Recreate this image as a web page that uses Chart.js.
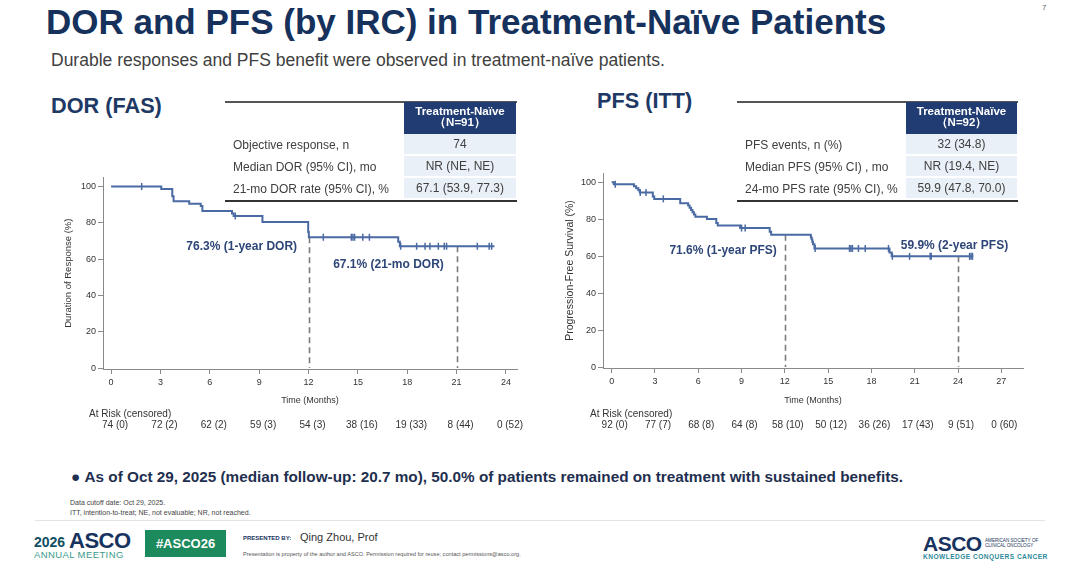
<!DOCTYPE html>
<html><head><meta charset="utf-8">
<script src="https://cdn.jsdelivr.net/npm/chart.js@4.4.1/dist/chart.umd.min.js"></script>
<style>
html,body{margin:0;padding:0;background:#fff;}
body{width:1080px;height:565px;position:relative;overflow:hidden;font-family:'Liberation Sans',Arial,sans-serif;}
.a{position:absolute;white-space:nowrap;line-height:1;}
canvas{position:absolute;}
.tbl{position:absolute;}
.hdr{position:absolute;background:#203c73;color:#fff;font-weight:bold;font-size:11.5px;text-align:center;line-height:11px;}
.lbl{position:absolute;font-size:12px;color:#404040;line-height:1;white-space:nowrap;}
.val{position:absolute;background:#e9f0f7;font-size:12px;color:#404040;text-align:center;border-bottom:2px solid #fff;box-sizing:border-box;}
</style></head><body>

<div class="a" style="left:46px;top:4px;font-size:35px;font-weight:bold;color:#15315c;">DOR and PFS (by IRC) in Treatment-Naïve Patients</div>
<div class="a" style="left:1042px;top:4px;font-size:8px;color:#666;">7</div>
<div class="a" style="left:51px;top:52px;font-size:17.5px;color:#404040;">Durable responses and PFS benefit were observed in treatment-naïve patients.</div>
<div class="a" style="left:51px;top:95px;font-size:21.7px;font-weight:bold;color:#203864;">DOR (FAS)</div>
<div class="a" style="left:597px;top:90px;font-size:21.7px;font-weight:bold;color:#203864;">PFS (ITT)</div>

<canvas id="dor" width="490" height="270" style="left:50px;top:170px;"></canvas>
<canvas id="pfs" width="500" height="275" style="left:560px;top:165px;"></canvas>

<div id="tblL" class="tbl" style="left:225px;top:101px;width:292px;height:100px;"></div>
<div id="tblR" class="tbl" style="left:737px;top:101px;width:281px;height:100px;"></div>

<div class="a" style="left:71px;top:469px;font-size:15.3px;font-weight:bold;color:#1f2f4f;">●&nbsp;As of Oct 29, 2025 (median follow-up: 20.7 mo), 50.0% of patients remained on treatment with sustained benefits.</div>
<div class="a" style="left:70px;top:499px;font-size:7px;color:#444;">Data cutoff date: Oct 29, 2025.</div>
<div class="a" style="left:70px;top:509px;font-size:7px;color:#444;">ITT, intention-to-treat; NE, not evaluable; NR, not reached.</div>

<div class="a" style="left:35px;top:520px;width:1010px;height:1px;background:#e4e4e4;"></div>
<div class="a" style="left:34px;top:535px;font-size:14px;font-weight:bold;color:#124f63;">2026</div>
<div class="a" style="left:69px;top:530px;font-size:22px;font-weight:bold;color:#17335e;letter-spacing:-0.5px;">ASCO</div>
<div class="a" style="left:34px;top:550px;font-size:9.5px;color:#3a9a8c;letter-spacing:0.4px;">ANNUAL MEETING</div>
<div class="a" style="left:145px;top:530px;width:81px;height:27px;background:#1d8a5e;color:#fff;font-weight:bold;font-size:13px;line-height:27px;text-align:center;">#ASCO26</div>
<div class="a" style="left:243px;top:535px;font-size:6px;font-weight:bold;color:#17335e;">PRESENTED BY:</div>
<div class="a" style="left:300px;top:532px;font-size:11px;color:#333;">Qing Zhou, Prof</div>
<div class="a" style="left:243px;top:552px;font-size:5.6px;color:#555;">Presentation is property of the author and ASCO. Permission required for reuse; contact permissions@asco.org.</div>
<div class="a" style="left:923px;top:533px;font-size:21px;font-weight:bold;color:#17335e;letter-spacing:-0.5px;">ASCO</div>
<div class="a" style="left:985px;top:538px;font-size:4.6px;color:#17335e;line-height:5px;">AMERICAN SOCIETY OF<br>CLINICAL ONCOLOGY</div>
<div class="a" style="left:923px;top:554px;font-size:6.6px;font-weight:bold;color:#2f8a9a;letter-spacing:0.45px;">KNOWLEDGE CONQUERS CANCER</div>

<script>
// ---------- data ----------
const dorTimes = [0, 3.05, 3.72, 3.8, 4.75, 5.45, 5.55, 7.35, 7.45, 9.2, 11.98, 12.02, 17.45, 17.55, 23.3];
const dorSurv  = [100, 98.6, 94.6, 91.9, 90.5, 89.2, 86.5, 85.1, 83.8, 80.4, 74.9, 72.0, 69.6, 67.1, 67.1];
const dorCensor = [1.86, 7.55, 12.9, 14.6, 14.7, 14.8, 15.3, 15.7, 17.6, 18.57, 19.08, 19.38, 19.89, 20.25, 20.39, 22.26, 22.98, 23.13];
const dorXTicks = [0, 3, 6, 9, 12, 15, 18, 21, 24];
const dorAtRisk = ['74 (0)', '72 (2)', '62 (2)', '59 (3)', '54 (3)', '38 (16)', '19 (33)', '8 (44)', '0 (52)'];
const dorMarkX = [12, 21];
const dorMarkY = [72.0, 67.1];
const dorNotes = ['76.3% (1-year DOR)', '67.1% (21-mo DOR)'];

const pfsTimes = [0, 0.15, 1.55, 1.7, 1.85, 1.95, 2.85, 2.95, 4.75, 5.3, 5.4, 5.5, 5.6, 5.7, 5.8, 6.6, 7.25, 7.35, 8.9, 10.95, 11.05, 13.8, 13.85, 13.9, 13.95, 14.05, 19.25, 19.4, 25.05];
const pfsSurv  = [100, 98.9, 97.8, 96.7, 95.6, 94.5, 92.3, 91.0, 88.6, 87.4, 86.2, 85.0, 83.8, 82.5, 81.3, 80.1, 78.0, 76.6, 75.2, 73.2, 71.6, 70.3, 69.1, 67.8, 66.5, 64.2, 62.0, 59.9, 59.9];
const pfsCensor = [0.25, 1.98, 2.38, 3.58, 9.0, 9.25, 14.1, 16.48, 16.58, 16.68, 17.1, 17.57, 19.18, 19.45, 20.64, 22.07, 22.14, 24.8, 24.9, 25.0];
const pfsXTicks = [0, 3, 6, 9, 12, 15, 18, 21, 24, 27];
const pfsAtRisk = ['92 (0)', '77 (7)', '68 (8)', '64 (8)', '58 (10)', '50 (12)', '36 (26)', '17 (43)', '9 (51)', '0 (60)'];
const pfsMarkX = [12, 24];
const pfsMarkY = [71.6, 59.9];
const pfsNotes = ['71.6% (1-year PFS)', '59.9% (2-year PFS)'];

const yTicks = [0, 20, 40, 60, 80, 100];

const tblLeftHead = ['Treatment-Naïve', '（N=91）'];
const tblLeftRows = ['Objective response, n', 'Median DOR (95% CI), mo', '21-mo DOR rate (95% CI), %'];
const tblLeftVals = ['74', 'NR (NE, NE)', '67.1 (53.9, 77.3)'];
const tblRightHead = ['Treatment-Naïve', '（N=92）'];
const tblRightRows = ['PFS events, n (%)', 'Median PFS (95% CI) , mo', '24-mo PFS rate (95% CI), %'];
const tblRightVals = ['32 (34.8)', 'NR (19.4, NE)', '59.9 (47.8, 70.0)'];

// ---------- tables ----------
function buildTable(el, head, rows, vals, valLeft, valW, lblLeft) {
  const w = el.offsetWidth;
  let h = '';
  h += `<div style="position:absolute;left:0;top:0;width:${w}px;height:1.5px;background:#555;"></div>`;
  h += `<div class="hdr" style="left:${valLeft}px;top:1px;width:${valW}px;height:32px;padding-top:4px;box-sizing:border-box;">${head[0]}<br>${head[1]}</div>`;
  rows.forEach((r, i) => {
    const top = 33 + i * 22;
    h += `<div class="lbl" style="left:${lblLeft}px;top:${top + 5}px;">${r}</div>`;
    h += `<div class="val" style="left:${valLeft}px;top:${top}px;width:${valW}px;height:22px;line-height:21px;">${vals[i]}</div>`;
  });
  h += `<div style="position:absolute;left:0;top:99px;width:${w}px;height:1.5px;background:#333;"></div>`;
  el.innerHTML = h;
}
buildTable(document.getElementById('tblL'), tblLeftHead, tblLeftRows, tblLeftVals, 179, 112, 8);
buildTable(document.getElementById('tblR'), tblRightHead, tblRightRows, tblRightVals, 169, 111, 8);

// ---------- charts ----------
const BLUE = '#4a6aa3';
const AXIS = '#8a8a8a';
const NARROW = "'Liberation Sans Narrow','Liberation Sans',Arial,sans-serif";
const REG = "'Liberation Sans',Arial,sans-serif";

function stepValue(times, surv, t) {
  let v = surv[0];
  for (let i = 0; i < times.length; i++) { if (times[i] <= t) v = surv[i]; }
  return v;
}

const kmPlugin = {
  id: 'km',
  beforeDatasetsDraw(chart, args, o) {
    const {ctx, scales: {x, y}} = chart;
    ctx.save();
    ctx.strokeStyle = '#7b7b7b';
    ctx.lineWidth = 1.6;
    ctx.setLineDash([6, 4]);
    o.markX.forEach((mx, i) => {
      const px = Math.round(x.getPixelForValue(mx)) + 0.5;
      ctx.beginPath();
      ctx.moveTo(px, y.getPixelForValue(o.markY[i]));
      ctx.lineTo(px, y.getPixelForValue(0));
      ctx.stroke();
    });
    ctx.restore();
  },
  afterDraw(chart, args, o) {
    const {ctx, scales: {x, y}} = chart;
    ctx.save();
    ctx.font = 'bold 12px ' + REG;
    ctx.fillStyle = '#2d4677';
    ctx.textAlign = 'center';
    ctx.textBaseline = 'middle';
    o.notes.forEach((n, i) => {
      ctx.fillText(n, x.getPixelForValue(o.noteX[i]), y.getPixelForValue(o.noteY[i]));
    });
    ctx.font = '10px ' + REG;
    ctx.fillStyle = '#333';
    ctx.textAlign = 'left';
    ctx.fillText('At Risk (censored)', o.atRiskLabelX, x.bottom + 6);
    ctx.textAlign = 'center';
    o.ticks.forEach((t, i) => {
      ctx.fillText(o.atRisk[i], x.getPixelForValue(t) + o.atRiskShift, x.bottom + 17);
    });
    ctx.restore();
  }
};

function makeChart(id, c) {
  const curve = c.times.map((t, i) => ({x: t, y: c.surv[i]}));
  const cens = c.censor.map(t => ({x: t, y: stepValue(c.times, c.surv, t)}));
  return new Chart(document.getElementById(id), {
    type: 'line',
    data: {datasets: [
      {data: curve, stepped: true, borderColor: BLUE, borderWidth: 2, pointRadius: 0, fill: false},
      {data: cens, showLine: false, pointStyle: 'line', pointRotation: 90, pointRadius: 3.5,
       pointBorderColor: BLUE, pointBorderWidth: 1.5, borderColor: BLUE}
    ]},
    options: {
      responsive: false, animation: false, devicePixelRatio: 1,
      layout: {padding: c.padding},
      plugins: {
        legend: {display: false}, tooltip: {enabled: false},
        km: {markX: c.markX, markY: c.markY, notes: c.notes, noteX: c.noteX, noteY: c.noteY,
             ticks: c.xTicks, atRisk: c.atRisk, atRiskLabelX: c.atRiskLabelX, atRiskShift: c.atRiskShift}
      },
      scales: {
        x: {
          type: 'linear', min: c.xMin, max: c.xMax,
          afterBuildTicks: s => { s.ticks = c.xTicks.map(v => ({value: v})); },
          afterFit: s => { s.height = c.xHeight; },
          grid: {display: true, drawOnChartArea: false, drawTicks: true, tickLength: 5, color: AXIS},
          border: {display: true, color: AXIS, width: 1},
          ticks: {font: {family: NARROW, size: 9}, color: '#333', padding: 3, maxRotation: 0, autoSkip: false},
          title: {display: true, text: 'Time (Months)', font: {family: NARROW, size: 9}, color: '#333', padding: {top: 0, bottom: 2}}
        },
        y: {
          min: -0.5, max: 105,
          afterBuildTicks: s => { s.ticks = yTicks.map(v => ({value: v})); },
          afterFit: s => { s.width = c.yWidth; },
          grid: {display: true, drawOnChartArea: false, drawTicks: true, tickLength: 5, color: AXIS},
          border: {display: true, color: AXIS, width: 1},
          ticks: {font: {family: NARROW, size: 9}, color: '#333', padding: 2},
          title: {display: true, text: c.yTitle, font: {family: REG, size: c.yTitleSize}, color: '#333', padding: {top: c.yTitlePad, bottom: 0}}
        }
      }
    },
    plugins: [kmPlugin]
  });
}

makeChart('dor', {
  times: dorTimes, surv: dorSurv, censor: dorCensor, xTicks: dorXTicks, atRisk: dorAtRisk,
  markX: dorMarkX, markY: dorMarkY, notes: dorNotes, noteX: [7.94, 16.86], noteY: [67.0, 57.1],
  xMin: -0.49, xMax: 24.67, padding: {left: 0, top: 7, right: 23, bottom: 32},
  xHeight: 39, yWidth: 53, yTitle: 'Duration of Response (%)', yTitleSize: 9.5, yTitlePad: 13,
  atRiskLabelX: 39, atRiskShift: 4
});
makeChart('pfs', {
  times: pfsTimes, surv: pfsSurv, censor: pfsCensor, xTicks: pfsXTicks, atRisk: pfsAtRisk,
  markX: pfsMarkX, markY: pfsMarkY, notes: pfsNotes, noteX: [7.72, 23.75], noteY: [62.8, 65.5],
  xMin: -0.6, xMax: 28.5, padding: {left: 0, top: 8, right: 37, bottom: 32},
  xHeight: 40, yWidth: 43, yTitle: 'Progression-Free Survival (%)', yTitleSize: 10.5, yTitlePad: 4,
  atRiskLabelX: 30, atRiskShift: 3
});
</script>
</body></html>
